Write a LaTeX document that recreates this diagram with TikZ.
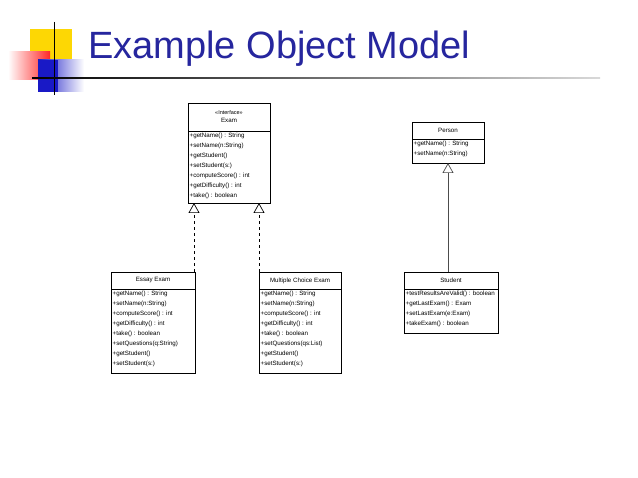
\documentclass[tikz,border=0pt]{standalone}
\usepackage{fontspec}
\setmainfont{Liberation Sans}
\usetikzlibrary{arrows.meta,calc}
\begin{document}
\begin{tikzpicture}[x=1pt,y=-1pt,
  box/.style={draw,line width=0.7pt,anchor=north west,inner sep=0,outer sep=0},
  hd/.style={font={\fontsize{6.2}{8}\selectfont},align=center,inner sep=0},
  ops/.style={font={\fontsize{6.2}{10}\selectfont},align=left,anchor=north west,inner sep=0},
  gen/.style={-{Triangle[open,length=10pt,width=11pt]},line width=0.7pt}]
\useasboundingbox (0,0) rectangle (638,478);
\fill[white] (0,0) rectangle (638,478);
% logo
\fill[yellow!75!orange] (30,29) rectangle (72,62);
\shade[left color=white,right color=red!85] (8,52) rectangle (50,80);
\shade[left color=blue!75!black!90,right color=white] (38,60) rectangle (84,92);
\fill[blue!75!black!90] (38,60) rectangle (58,92);
\draw[line width=1pt] (54,22) -- (54,95);
\shade[left color=black,right color=gray!30] (32,77.5) rectangle (600,79);
\node[anchor=west,text=blue!55!black!85,font=\fontsize{38}{40}\selectfont,inner sep=0] (title) at (88,49) {Example Object Model};
% Exam
\node[box,minimum width=82pt,minimum height=100pt] (exam) at (188,103) {};
\draw[line width=0.7pt] ($(exam.north west)+(0,28)$) -- ($(exam.north east)+(0,28)$);
\node[hd] (examh) at ($(exam.north)+(0,14)$) {{\fontsize{5.5}{7}\selectfont <<Interface>>}\\Exam};
\node[ops] (examo) at ($(exam.north west)+(1.5,30)$) {+getName() : String\\+setName(n:String)\\+getStudent()\\+setStudent(s:)\\+computeScore() : int\\+getDifficulty() : int\\+take() : boolean};
% Essay
\node[box,minimum width=84pt,minimum height=101pt] (essay) at (111,272) {};
\draw[line width=0.7pt] ($(essay.north west)+(0,17)$) -- ($(essay.north east)+(0,17)$);
\node[hd] (essayh) at ($(essay.north)+(0,8.5)$) {Essay Exam};
\node[ops] (essayo) at ($(essay.north west)+(1.5,19)$) {+getName() : String\\+setName(n:String)\\+computeScore() : int\\+getDifficulty() : int\\+take() : boolean\\+setQuestions(q:String)\\+getStudent()\\+setStudent(s:)};
% Multiple choice
\node[box,minimum width=82pt,minimum height=101pt] (mc) at (259,272) {};
\draw[line width=0.7pt] ($(mc.north west)+(0,17)$) -- ($(mc.north east)+(0,17)$);
\node[hd] (mch) at ($(mc.north)+(0,8.5)$) {Multiple Choice Exam};
\node[ops] (mco) at ($(mc.north west)+(1.5,19)$) {+getName() : String\\+setName(n:String)\\+computeScore() : int\\+getDifficulty() : int\\+take() : boolean\\+setQuestions(qs:List)\\+getStudent()\\+setStudent(s:)};
% Person
\node[box,minimum width=72pt,minimum height=41pt] (person) at (412,122) {};
\draw[line width=0.7pt] ($(person.north west)+(0,17)$) -- ($(person.north east)+(0,17)$);
\node[hd] (personh) at ($(person.north)+(0,8.5)$) {Person};
\node[ops] (persono) at ($(person.north west)+(1.5,19)$) {+getName() : String\\+setName(n:String)};
% Student
\node[box,minimum width=94pt,minimum height=61pt] (student) at (404,272) {};
\draw[line width=0.7pt] ($(student.north west)+(0,17)$) -- ($(student.north east)+(0,17)$);
\node[hd] (studenth) at ($(student.north)+(0,8.5)$) {Student};
\node[ops] (studento) at ($(student.north west)+(1.5,19)$) {+testResultsAreValid() : boolean\\+getLastExam() : Exam\\+setLastExam(e:Exam)\\+takeExam() : boolean};
% connectors
\coordinate (essaytop) at ($(essay.north east)+(-1,0)$);
\coordinate (mctop) at (mc.north west);
\draw[gen,dashed] (essaytop) -- (essaytop |- exam.south);
\draw[gen,dashed] (mctop) -- (mctop |- exam.south);
\coordinate (sttop) at (student.north -| person.south);
\draw[gen,gray!60!black] (sttop) -- (person.south);
\end{tikzpicture}
\end{document}
